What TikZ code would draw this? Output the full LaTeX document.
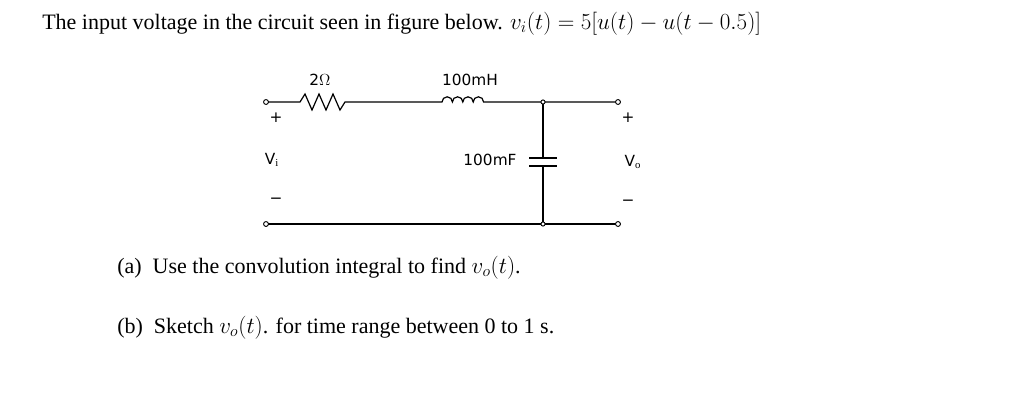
\documentclass[tikz,border=0pt]{standalone}
\usepackage{fontspec}
\setmainfont{Liberation Serif}
\newfontfamily\dvs{DejaVu Sans}
\usetikzlibrary{calc}
\begin{document}
\begin{tikzpicture}[x=0.75pt,y=-0.75pt,
  wire/.style={line width=0.9pt},
  term/.style={circle,draw,fill=white,inner sep=1.3pt,line width=0.7pt},
  dotn/.style={circle,draw,fill=white,inner sep=1.1pt,line width=0.7pt},
  lab/.style={font=\dvs\fontsize{11.5}{13}\selectfont},
  txt/.style={anchor=base west,font=\fontsize{16.5}{19}\selectfont,inner sep=0}]
\useasboundingbox (0,0) rectangle (1024,414);
\node[txt] (title) at (42,29) {The input voltage in the circuit seen in figure below. $v_i(t)=5[u(t)-u(t-0.5)]$};
\node[txt] (qa) at (117,273) {(a)\ \ Use the convolution integral to find $v_o(t)$.};
\node[txt] (qb) at (117,333) {(b)\ \ Sketch $v_o(t)$. for time range between 0 to 1 s.};
\coordinate (a1) at (266,102);
\coordinate (r1) at (300,102);
\coordinate (l1) at (442,102);
\coordinate (l2) at (488,102);
\coordinate (n1) at (543,102);
\coordinate (b1) at (618,102);
\coordinate (a2) at (266,224);
\coordinate (n2) at (543,224);
\coordinate (b2) at (618,224);
\coordinate (c1) at (543,158);
\coordinate (c2) at (543,166);
\draw[wire] (a1) -- (r1) -- ++(5,-8) -- ++(7,16) -- ++(7,-16) -- ++(7,16) -- ++(7,-16) -- ++(7,16) -- ++(5,-8) -- (l1)
  arc[start angle=180,end angle=360,radius=5.2] arc[start angle=180,end angle=360,radius=5.2] arc[start angle=180,end angle=360,radius=5.2] arc[start angle=180,end angle=360,radius=5.2] -- (l2) -- (n1) -- (b1);
\draw[wire] (a2) -- (n2) -- (b2);
\draw[wire] (n1) -- (c1) (c2) -- (n2);
\draw[wire] ($(c1)+(-14,0)$) -- ++(28,0);
\draw[wire] ($(c2)+(-14,0)$) -- ++(28,0);
\node[term] (ta1) at (a1) {};
\node[term] (ta2) at (a2) {};
\node[term] (tb1) at (b1) {};
\node[term] (tb2) at (b2) {};
\node[dotn] (d1) at (n1) {};
\node[dotn] (d2) at (n2) {};
\node[lab] (lr) at (320,80) {2$\Omega$};
\node[lab] (ll) at (470,80) {100mH};
\node[lab] (lc) at (490,160) {100mF};
\node[lab] (p1) at (276,118) {+};
\node[lab] (vi) at (272,160) {V$_{\mathrm{i}}$};
\node[lab] (m1) at (276,201) {\textminus};
\node[lab] (p2) at (628,118) {+};
\node[lab] (vo) at (633,162) {V$_{\mathrm{o}}$};
\node[lab] (m2) at (628,203) {\textminus};
\end{tikzpicture}
\end{document}
